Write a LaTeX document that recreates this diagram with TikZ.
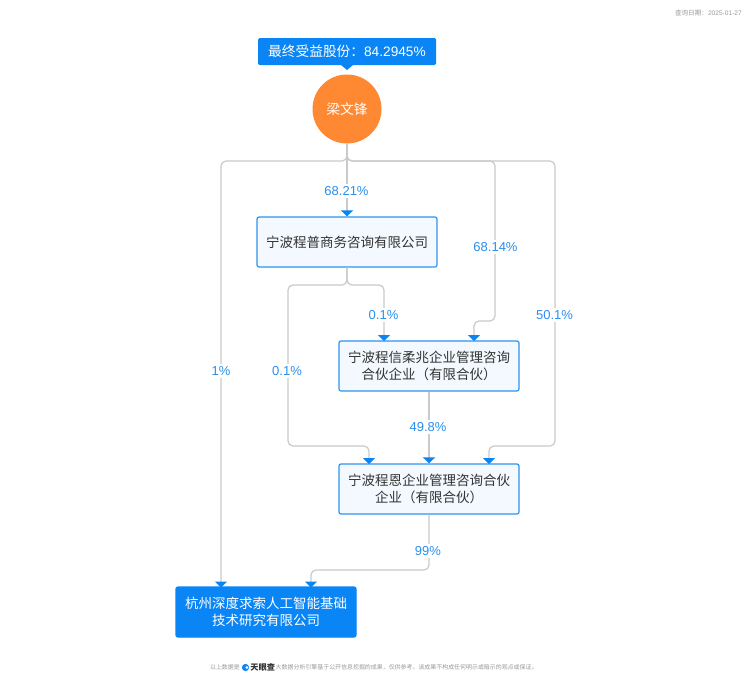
\documentclass[tikz,border=0pt]{standalone}
\usepackage{fontspec}
\setmainfont{Liberation Sans}
\newfontfamily\cjk{Noto Sans CJK SC}
\usetikzlibrary{arrows.meta}
\definecolor{tycblue}{HTML}{0A85F5}
\definecolor{tycedge}{HTML}{2E95F0}
\definecolor{tycfill}{HTML}{F3F9FE}
\definecolor{tycorange}{HTML}{FF8833}
\definecolor{tycline}{HTML}{CACACA}
\definecolor{tyclabel}{HTML}{2B8FEF}
\definecolor{tyctext}{HTML}{333333}
\definecolor{tycfoot}{HTML}{9A9A9A}
\tikzset{
  x=1pt,y=-1pt,
  company/.style={draw=tycedge,line width=1.2pt,fill=tycfill,rounded corners=2pt,minimum width=180pt,minimum height=50pt,
    align=center,text=tyctext,font=\cjk\fontsize{13.5}{17}\selectfont,inner sep=0pt},
  target/.style={company,draw=tycblue,fill=tycblue,text=white,font=\cjk\fontsize{13.5}{17}\selectfont},
  owner/.style={circle,fill=tycorange,minimum size=69pt,inner sep=0pt,text=white,font=\cjk\fontsize{13.8}{18}\selectfont},
  tag/.style={fill=tycblue,rounded corners=1.5pt,minimum width=178pt,minimum height=27pt,inner sep=0pt,text=white,font=\fontsize{13.7}{18}\selectfont},
  link/.style={draw=tycline,line width=1.2pt,rounded corners=5pt},
  arrowed/.style={link,-{Triangle[width=12pt,length=6pt,color=tycblue]}},
  pct/.style={fill=white,text=tyclabel,inner xsep=1pt,inner ysep=2pt,font=\fontsize{13}{15}\selectfont},
  foot/.style={text=tycfoot,inner sep=0pt,font=\cjk\fontsize{5.95}{7}\selectfont}
}
\begin{document}
\begin{tikzpicture}
\useasboundingbox (0,0) rectangle (750,675);
\fill[white] (0,0) rectangle (750,675);

% nodes
\node[tag] (tagnode) at (347,51.5) {{\cjk 最终受益股份：}84.2945\%};
\fill[tycblue] (341,65) -- (353,65) -- (347,70) -- cycle;
\node[owner] (person) at (347,109) {梁文锋};
\node[company] (pu) at (347,242) {宁波程普商务咨询有限公司};
\node[company] (xin) at (429,366) {宁波程信柔兆企业管理咨询\\合伙企业（有限合伙）};
\node[company] (en) at (429,489) {宁波程恩企业管理咨询合伙\\企业（有限合伙）};
\node[target] (hf) at (266,612) {杭州深度求索人工智能基础\\技术研究有限公司};

% junctions and entry points
\coordinate (jtop) at (347,161);
\coordinate (jpu) at (347,285);
\coordinate (inhfa) at (221,587.5);
\coordinate (inhfb) at (311,587.5);
\coordinate (inxina) at (384,341);
\coordinate (inxinb) at (474,341);
\coordinate (inena) at (369,464);
\coordinate (inenb) at (489,464);
\coordinate (railr) at (495,321);
\coordinate (rails) at (555,446);
\coordinate (raill) at (288,446);
\coordinate (jen) at (429,570);

% connectors
\draw[arrowed] (person.south) -- (pu.north);
\draw[arrowed] (person.south) -- (jtop) -| (inhfa);
\draw[arrowed] (person.south) -- (jtop) -| (railr) -| (inxinb);
\draw[arrowed] (person.south) -- (jtop) -| (rails) -| (inenb);
\draw[arrowed] (pu.south) -- (jpu) -| (inxina);
\draw[arrowed] (pu.south) -- (jpu) -| (raill) -| (inena);
\draw[arrowed] (xin.south) -- (en.north);
\draw[arrowed] (en.south) -- (jen) -| (inhfb);

% labels
\node[pct] (p1) at (346.5,191) {68.21\%};
\node[pct] (p2) at (495.5,247) {68.14\%};
\node[pct] (p3) at (221,371) {1\%};
\node[pct] (p4) at (554.5,315) {50.1\%};
\node[pct] (p5) at (383.5,315) {0.1\%};
\node[pct] (p6) at (287,371) {0.1\%};
\node[pct] (p7) at (428,427) {49.8\%};
\node[pct] (p8) at (428,551) {99\%};

% date and footer
\node[foot,anchor=east,font=\cjk\fontsize{6.6}{8}\selectfont] (datestamp) at (742,13) {查询日期：\fontspec{Liberation Sans}2025-01-27};
\node[foot,anchor=east] (footl) at (240,667.5) {以上数据是};
\fill[tycblue] (245.5,667.5) circle (3.6pt);
\fill[white] (246.8,667.5) circle (1.5pt);
\node[foot,anchor=west,text=tyctext,font=\cjk\bfseries\fontsize{8.2}{9}\selectfont] (footb) at (250.2,667.5) {天眼查};
\node[foot,anchor=west] (footr) at (275.5,667.5) {大数据分析引擎基于公开信息挖掘的成果，仅供参考。该成果不构成任何明示或暗示的观点或保证。};
\end{tikzpicture}
\end{document}
